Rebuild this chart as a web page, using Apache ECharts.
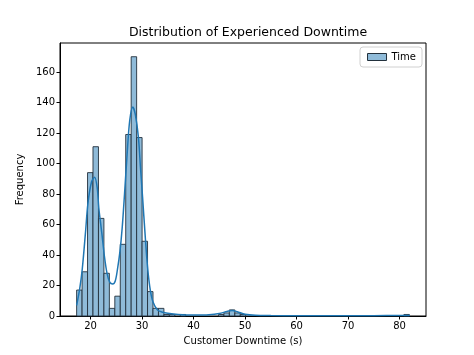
<!DOCTYPE html>
<html>
<head>
<meta charset="utf-8">
<script src="https://cdn.jsdelivr.net/npm/echarts@6/dist/echarts.min.js"></script>
<style>
  html, body { margin: 0; padding: 0; background: #fff; }
  #chart { width: 474px; height: 355px; }
</style>
</head>
<body>
<div id="chart"></div>
<script>
// ---- data ----
const binStart = 17.3;       // left edge of first bin (s)
const binWidth = 1.059;      // bin width (s)
const binCounts = [
  17, 29, 94, 111, 64, 28, 5, 13, 47, 119,
  170, 117, 49, 16, 5, 5, 1, 1, 0, 1,
  0, 0, 0, 0, 0, 0, 1, 2, 4, 2,
  1, 0, 0, 0, 0, 0, 0, 0, 0, 0,
  0, 0, 0, 0, 0, 0, 0, 0, 0, 0,
  0, 0, 0, 0, 0, 0, 0, 0, 0, 0,
  1
];
const kdeX = [17.3, 17.9, 18.4, 19.0, 19.5, 20.2, 20.8, 21.3, 21.6, 22.2, 22.7, 23.2, 23.75, 24.3, 24.8, 25.2, 25.7, 26.15, 26.6, 27.1, 27.6, 28.2, 28.7, 29.3, 29.7, 30.1, 30.6, 31.1, 31.6, 32.15, 33.0, 34.0, 35.0, 37.0, 40.0, 43.0, 45.0, 46.5, 47.5, 48.5, 50.0, 52.0, 55.0, 60.0, 65.0, 70.0, 75.0, 80.0, 82.0];
const kdeY = [7, 18, 31, 54, 74, 88, 91, 84, 71, 54, 39, 28, 22, 21, 23, 30, 42, 58, 80, 106, 128, 137, 132, 117, 97, 78, 53, 31, 17, 9, 4, 2.5, 1.8, 1.0, 0.6, 0.8, 1.6, 3.0, 3.6, 2.8, 1.2, 0.5, 0.3, 0.2, 0.2, 0.2, 0.2, 0.3, 0.3];
const xTicks = [20, 30, 40, 50, 60, 70, 80];
const yTicks = [0, 20, 40, 60, 80, 100, 120, 140, 160];
const seriesName = 'Time';

const histData = binCounts.map((c, i) => [binStart + i * binWidth, binStart + (i + 1) * binWidth, c]);
const kdeData = kdeX.map((x, i) => [x, kdeY[i]]);

const chart = echarts.init(document.getElementById('chart'), null, { renderer: 'canvas' });
const font = 'DejaVu Sans';
chart.setOption({
  animation: false,
  backgroundColor: '#fff',
  title: {
    text: 'Distribution of Experienced Downtime',
    left: 243,
    textAlign: 'center',
    top: 21,
    textStyle: { fontFamily: font, fontSize: 12.5, fontWeight: 'normal', color: '#000' }
  },
  legend: {
    data: [{ name: seriesName, icon: 'rect' }],
    right: 52,
    top: 47,
    orient: 'vertical',
    itemWidth: 19,
    itemHeight: 7,
    itemGap: 4,
    padding: [5, 6, 5, 7],
    borderColor: '#d0d0d0',
    borderWidth: 1,
    borderRadius: 3,
    backgroundColor: '#fff',
    textStyle: { fontFamily: font, fontSize: 10, color: '#000' },
    itemStyle: { color: '#8fbbd9', borderColor: '#22303c', borderWidth: 1 }
  },
  grid: {
    left: 60, right: 48, top: 43, bottom: 39,
    show: true, borderColor: '#000', borderWidth: 1, backgroundColor: 'transparent'
  },
  xAxis: {
    type: 'value',
    min: 14.07,
    max: 85.13,
    name: 'Customer Downtime (s)',
    nameLocation: 'middle',
    nameGap: 20,
    nameTextStyle: { fontFamily: font, fontSize: 10, color: '#000' },
    splitLine: { show: false },
    axisLine: { show: true, lineStyle: { color: '#000', width: 1 } },
    axisTick: { show: true, length: 3.5, lineStyle: { color: '#000' }, customValues: xTicks },
    axisLabel: { fontFamily: font, fontSize: 10, color: '#000', margin: 5, customValues: xTicks }
  },
  yAxis: {
    type: 'value',
    min: 0,
    max: 179,
    name: 'Frequency',
    nameLocation: 'middle',
    nameGap: 33,
    nameTextStyle: { fontFamily: font, fontSize: 10, color: '#000' },
    splitLine: { show: false },
    axisLine: { show: true, lineStyle: { color: '#000', width: 1 } },
    axisTick: { show: true, length: 3.5, lineStyle: { color: '#000' }, customValues: yTicks },
    axisLabel: { fontFamily: font, fontSize: 10, color: '#000', margin: 5, customValues: yTicks }
  },
  series: [
    {
      name: seriesName,
      type: 'custom',
      data: histData,
      encode: { x: [0, 1], y: 2 },
      renderItem: function (params, api) {
        const c = api.value(2);
        if (c <= 0) return null;
        const p0 = api.coord([api.value(0), 0]);
        const p1 = api.coord([api.value(1), c]);
        return {
          type: 'rect',
          shape: { x: p0[0], y: p1[1], width: p1[0] - p0[0], height: p0[1] - p1[1] },
          style: { fill: '#8fbbd9', stroke: '#22303c', lineWidth: 0.9 }
        };
      },
      itemStyle: { color: '#8fbbd9', borderColor: '#22303c' },
      z: 2
    },
    {
      name: 'kde',
      type: 'line',
      data: kdeData,
      smooth: 0.3,
      showSymbol: false,
      lineStyle: { color: '#1f77b4', width: 1.5 },
      z: 3
    }
  ]
});
</script>
</body>
</html>
